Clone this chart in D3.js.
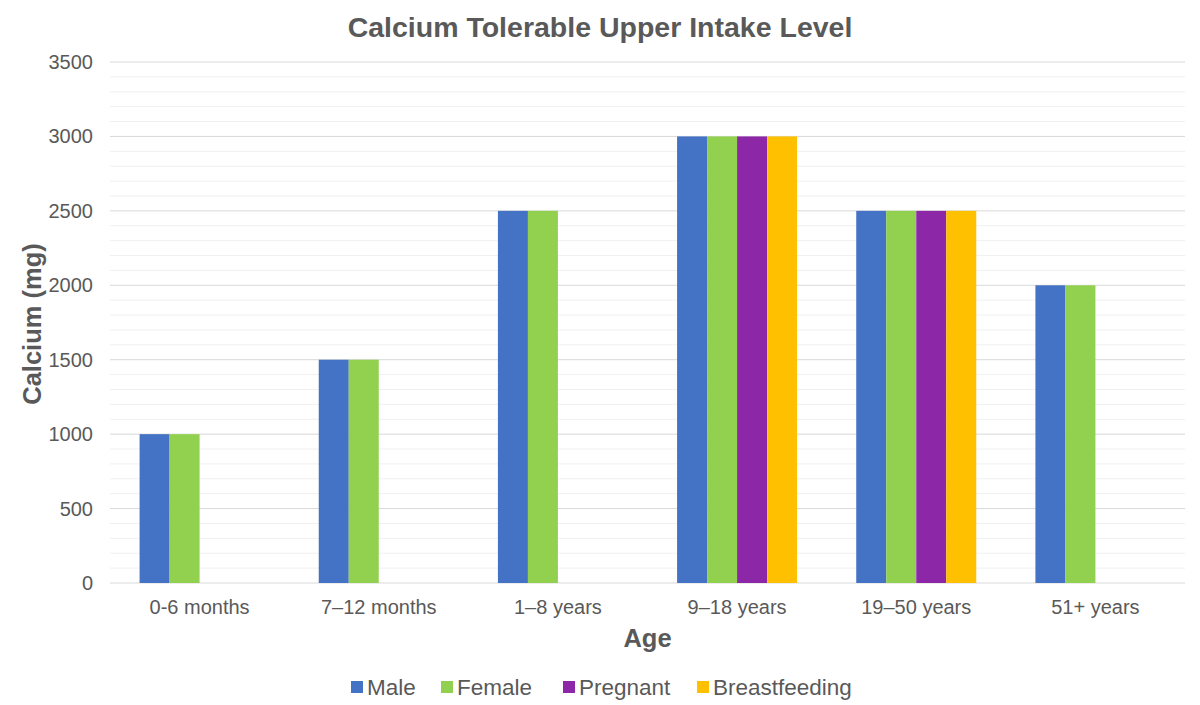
<!DOCTYPE html>
<html><head><meta charset="utf-8">
<script src="https://cdn.jsdelivr.net/npm/d3@7"></script>
<style>body{margin:0;background:#fff;}svg{font-family:Arial,"Liberation Sans",sans-serif;}</style>
</head><body><svg id="c" width="1200" height="705"></svg>
<script>
const categories = ["0-6 months","7–12 months","1–8 years","9–18 years","19–50 years","51+ years"];
const seriesNames = ["Male","Female","Pregnant","Breastfeeding"];
const male = [1000,1500,2500,3000,2500,2000];
const female = [1000,1500,2500,3000,2500,2000];
const pregnant = [null,null,null,3000,2500,null];
const breastfeeding = [null,null,null,3000,2500,null];
const yTicks = [0,500,1000,1500,2000,2500,3000,3500];
const colors = ["#4472C4","#92D050","#8C27A8","#FFC000"];
const seriesValues = [male,female,pregnant,breastfeeding];

const svg = d3.select("#c");
const L=110,R=1185,T=62,B=583;
const x = d3.scaleBand().domain(categories).range([L,R]).paddingInner(0).paddingOuter(0);
const y = d3.scaleLinear().domain([0,3500]).range([B,T]);
const groupW = 120;
const xs = d3.scaleBand().domain(seriesNames).range([0,groupW]);

// minor grid
const minor = d3.range(0,3501,100).filter(v=>v%500!==0);
svg.append("g").selectAll("line").data(minor).join("line")
  .attr("x1",L).attr("x2",R).attr("y1",d=>y(d)).attr("y2",d=>y(d))
  .attr("stroke","#f0f0f0").attr("stroke-width",1);
svg.append("g").selectAll("line").data(yTicks).join("line")
  .attr("x1",L).attr("x2",R).attr("y1",d=>y(d)).attr("y2",d=>y(d))
  .attr("stroke","#d9d9d9").attr("stroke-width",1);

// y labels
svg.append("g").selectAll("text").data(yTicks).join("text")
  .attr("x",93).attr("y",d=>y(d)).attr("dy","0.35em").attr("text-anchor","end")
  .attr("font-size",20).attr("fill","#595959").text(d=>d);

// bars
seriesNames.forEach((s,i)=>{
  svg.append("g").selectAll("rect").data(categories.map((c,j)=>({c,v:seriesValues[i][j]})).filter(d=>d.v!=null))
   .join("rect")
   .attr("x",d=>x(d.c)+x.bandwidth()/2-groupW/2+xs(s))
   .attr("width",xs.bandwidth())
   .attr("y",d=>y(d.v)).attr("height",d=>y(0)-y(d.v))
   .attr("fill",colors[i]);
});

// x labels
svg.append("g").selectAll("text").data(categories).join("text")
  .attr("x",d=>x(d)+x.bandwidth()/2).attr("y",614).attr("text-anchor","middle")
  .attr("font-size",20).attr("fill","#595959").text(d=>d);

// titles
svg.append("text").attr("x",600).attr("y",37).attr("text-anchor","middle")
  .attr("font-size",28.5).attr("font-weight","bold").attr("fill","#595959")
  .text("Calcium Tolerable Upper Intake Level");
svg.append("text").attr("transform","translate(41,324) rotate(-90)").attr("text-anchor","middle")
  .attr("font-size",25.5).attr("font-weight","bold").attr("fill","#595959").text("Calcium (mg)");
svg.append("text").attr("x",(L+R)/2).attr("y",647).attr("text-anchor","middle")
  .attr("font-size",25.5).attr("font-weight","bold").attr("fill","#595959").text("Age");

// legend
const legX=[351,441,563,697];
const lg = svg.append("g");
seriesNames.forEach((s,i)=>{
  lg.append("rect").attr("x",legX[i]).attr("y",681).attr("width",12).attr("height",12).attr("fill",colors[i]);
  lg.append("text").attr("x",legX[i]+16).attr("y",695).attr("font-size",22.5).attr("fill","#595959").text(s);
});
</script></body></html>
